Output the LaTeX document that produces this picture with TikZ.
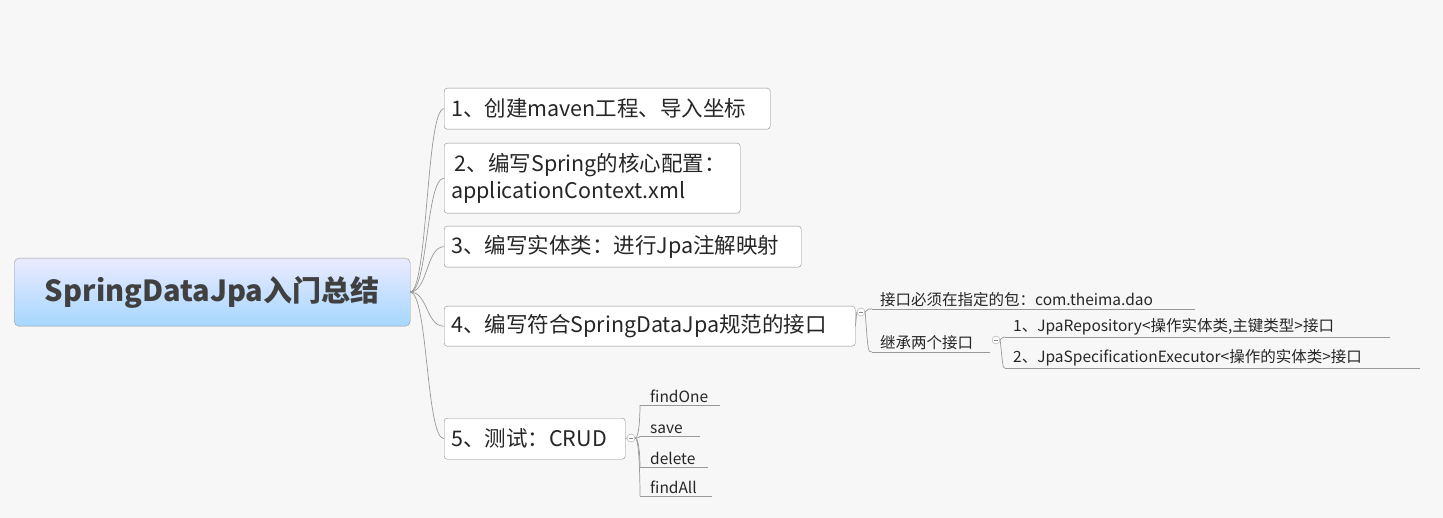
\documentclass[tikz,border=0pt]{standalone}
\usepackage{fontspec}
\setmainfont{Noto Sans CJK SC}
\begin{document}
\begin{tikzpicture}[x=1pt,y=-1pt,
 box/.style={draw=black!45,fill=white,rounded corners=3pt,anchor=north west,inner xsep=7pt,inner ysep=0pt,align=left,font=\fontsize{21.5}{27}\selectfont,text=black!85},
 leaf/.style={anchor=south west,inner xsep=8pt,inner ysep=2pt,font=\fontsize{15.5}{18}\selectfont,text=black!85},
 ln/.style={draw=black!40,line width=0.7pt},
 tog/.style={circle,draw=black!35,fill=white,inner sep=0pt,minimum size=8pt,path picture={\draw[black!45] (path picture bounding box.west)++(2pt,0)--++(4pt,0);}}]
\fill[black!3] (0,0) rectangle (1443,518);
\useasboundingbox (0,0) rectangle (1443,518);
\node[draw=black!40,rounded corners=5pt,top color=blue!8,bottom color=blue!45!cyan!35,minimum width=396pt,minimum height=68pt,anchor=north west,font=\bfseries\fontsize{29}{32}\selectfont,text=black!75] (root) at (14,258) {SpringDataJpa入门总结};
\node[box,text width=312pt,minimum height=41pt] (b1) at (444,88) {1、创建maven工程、导入坐标};
\node[box,text width=282pt,minimum height=70pt] (b2) at (444,143) {\,2、编写Spring的核心配置：\\applicationContext.xml};
\node[box,text width=343pt,minimum height=41pt] (b3) at (444,226) {3、编写实体类：进行Jpa注解映射};
\node[box,text width=397pt,minimum height=40pt] (b4) at (444,306) {4、编写符合SpringDataJpa规范的接口};
\node[box,text width=167pt,minimum height=41pt] (b5) at (444,418) {5、测试：CRUD};
\coordinate (r) at (410,292);
\foreach \b in {b1,b2,b3,b4,b5}{
 \draw[ln] (r) .. controls (428,292) and (426,0|-\b.west) .. (\b.west);}
% node 4 children
\node[tog] (t4) at (861,312) {};
\node[leaf] (c41) at (872,309) {接口必须在指定的包：com.theima.dao};
\node[leaf] (c42) at (872,352) {继承两个接口};
\draw[ln] (c41.south west)--(1195,309);
\draw[ln] (c42.south west)--(990,352);
\draw[ln] (b4.east)--(t4.west);
\draw[ln] (t4.east) .. controls (868,309) .. (c41.south west);
\draw[ln] (t4.east) .. controls (868,352) .. (c42.south west);
\node[tog] (t42) at (996,340) {};
\node[leaf] (c421) at (1005,337) {1、JpaRepository<操作实体类,主键类型>接口};
\node[leaf] (c422) at (1005,368) {2、JpaSpecificationExecutor<操作的实体类>接口};
\draw[ln] (c421.south west)--(1390,337);
\draw[ln] (c422.south west)--(1420,368);
\draw[ln] (t42.east) .. controls (1003,337) .. (c421.south west);
\draw[ln] (t42.east) .. controls (1003,368) .. (c422.south west);
% node 5 children
\node[tog] (t5) at (631,438) {};
\draw[ln] (b5.east)--(t5.west);
\node[leaf,inner xsep=10pt] (f1) at (640,405) {findOne};
\node[leaf,inner xsep=10pt] (f2) at (640,436) {save};
\node[leaf,inner xsep=10pt] (f3) at (640,467) {delete};
\node[leaf,inner xsep=10pt] (f4) at (640,496) {findAll};
\draw[ln] (f1.south west)--(720,405);
\draw[ln] (f2.south west)--(700,436);
\draw[ln] (f3.south west)--(708,467);
\draw[ln] (f4.south west)--(712,496);
\foreach \f in {f1,f2,f3,f4}{
 \draw[ln] (t5.east) .. controls (640,438) and (640,0|-\f.south west) .. (\f.south west);}
\end{tikzpicture}
\end{document}
